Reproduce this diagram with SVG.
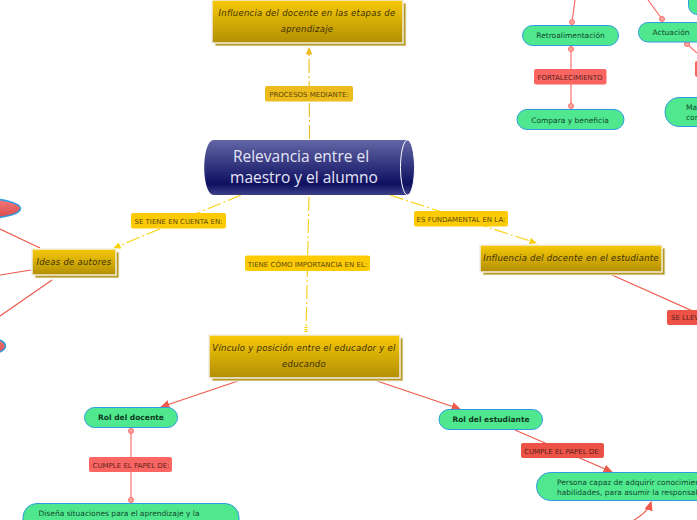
<svg xmlns="http://www.w3.org/2000/svg" width="697" height="520" viewBox="0 0 697 520">
<defs>
<linearGradient id="gold" x1="0" y1="0" x2="0" y2="1"><stop offset="0" stop-color="#f7c908"/><stop offset="1" stop-color="#b28f04"/></linearGradient>
<linearGradient id="blue" x1="0" y1="0" x2="0" y2="1"><stop offset="0" stop-color="#6366a6"/><stop offset="0.8" stop-color="#0e1060"/><stop offset="1" stop-color="#3d4088"/></linearGradient>
<linearGradient id="redg" x1="0" y1="0" x2="0" y2="1"><stop offset="0" stop-color="#f47a7a"/><stop offset="1" stop-color="#d84a4a"/></linearGradient>
<marker id="arrY" markerWidth="8" markerHeight="8" refX="6" refY="3" orient="auto"><path d="M0,0L7,3L0,6Z" fill="#fbd00e"/></marker>
<marker id="arrO" markerWidth="8" markerHeight="8" refX="6" refY="3" orient="auto"><path d="M0,0L7,3L0,6Z" fill="#ecbb1e"/></marker>
<marker id="arrR" markerWidth="9" markerHeight="8" refX="7" refY="3.5" orient="auto"><path d="M0,0L8,3.5L0,7Z" fill="#ee5a4c"/></marker>
</defs>
<style>
text{font-family:"DejaVu Sans","Liberation Sans",sans-serif}
.gold{fill:url(#gold);stroke:#f1eee6;stroke-width:1.5}
.shadow{fill:#b8991e;stroke:#f1eee6;stroke-width:1}
.gt{font-style:italic;font-size:8.5px;fill:#3c2f00;text-anchor:middle;letter-spacing:.25px}
.green{fill:#4fe88f;stroke:#2e9ce0;stroke-width:1}
.nt{font-size:7.5px;fill:#124a2c;text-anchor:middle}
.ntb{font-size:7.5px;font-weight:bold;fill:#0e3822;text-anchor:middle}
.lab{font-size:7px;fill:#5b4700;text-anchor:middle}
.labr{font-size:7px;fill:#5a1f1c;text-anchor:middle}
.yc{fill:none;stroke:#fbd00e;stroke-width:1.1;stroke-dasharray:14 3 2 3}
.oc{fill:none;stroke:#ecbb1e;stroke-width:1.1;stroke-dasharray:14 3 2 3}
.rc{fill:none;stroke:#ee5a4c;stroke-width:1.2}
.pc{fill:none;stroke:#fb6e6a;stroke-width:1.2}
.dot{fill:#fba5a0;stroke:#fb6e6a;stroke-width:1}
</style>
<g id="connectors">
<path class="oc" d="M309.500 139L309 48" marker-end="url(#arrO)"/>
<path class="yc" d="M241 195L114 248" marker-end="url(#arrY)"/>
<path class="yc" d="M390 195L536 243" marker-end="url(#arrY)"/>
<path class="yc" d="M309 197L306 332"/>
<path d="M306 327v6" stroke="#fbd00e" stroke-width="3" stroke-dasharray="1 1"/>
<path class="rc" d="M238 381L161 407" marker-end="url(#arrR)"/>
<path class="rc" d="M377 381L460 409" marker-end="url(#arrR)"/>
<path class="rc" d="M0 229L40 248M0 275L31 270M0 316L52 280"/>
<path class="rc" d="M612 275L697 313"/>
<path class="rc" d="M515 430L612 472" marker-end="url(#arrR)"/>
<path class="rc" d="M634 520Q648 512 651 502" marker-end="url(#arrR)"/>
<path class="pc" d="M131 431V503"/>
<path class="pc" d="M571 49V106"/>
<path class="pc" d="M575 0L572 22"/>
<path class="pc" d="M648 0L662 19"/>
<path class="pc" d="M687 44L697 53"/>
<circle class="dot" cx="131" cy="431" r="2.500"/><circle class="dot" cx="131" cy="500" r="2.500"/>
<circle class="dot" cx="571" cy="49" r="2.500"/><circle class="dot" cx="571" cy="106" r="2.500"/>
<circle class="dot" cx="572" cy="22" r="2.500"/><circle class="dot" cx="662" cy="19" r="2.500"/><circle class="dot" cx="687" cy="44" r="2.500"/>
</g>
<g id="central">
<path d="M214 140H407V195H214C201 195 201 140 214 140Z" fill="url(#blue)"/>
<ellipse cx="407.500" cy="167.500" rx="7" ry="27.500" fill="url(#blue)" stroke="#fff" stroke-width="1"/>
<text x="301" y="162" font-size="15.500" fill="#e4e5f4" text-anchor="middle" style="font-family:'Open Sans','Noto Sans',sans-serif">Relevancia entre el</text>
<text x="304" y="183" font-size="15.500" fill="#e4e5f4" text-anchor="middle" style="font-family:'Open Sans','Noto Sans',sans-serif">maestro y el alumno</text>
</g>
<g id="n-etapas"><rect class="shadow" x="215" y="3" width="191" height="43"/><rect class="gold" x="212" y="0" width="191" height="43"/>
<text class="gt" x="307" y="16">Influencia del docente en las etapas de</text><text class="gt" x="307" y="32">aprendizaje</text></g>
<g id="l-procesos"><rect x="265" y="86" width="88" height="15.500" rx="2" fill="#ecbb1e"/><text class="lab" x="309" y="96.500">PROCESOS MEDIANTE:</text></g>
<g id="l-cuenta"><rect x="131" y="213" width="95" height="15.500" rx="2" fill="#fdcb06"/><text class="lab" x="178.500" y="224">SE TIENE EN CUENTA EN:</text></g>
<g id="l-fundamental"><rect x="414" y="211" width="94" height="15.500" rx="2" fill="#fdcb06"/><text class="lab" x="461" y="222">ES FUNDAMENTAL EN LA:</text></g>
<g id="l-importancia"><rect x="245" y="255.500" width="125" height="15.500" rx="2" fill="#fdcb06"/><text class="lab" x="307.500" y="266.500">TIENE CÓMO IMPORTANCIA EN EL:</text></g>
<g id="n-ideas"><rect class="shadow" x="35" y="252" width="84" height="26"/><rect class="gold" x="32" y="249" width="84" height="26"/><text class="gt" x="74" y="265">Ideas de autores</text></g>
<g id="n-influencia"><rect class="shadow" x="483" y="248" width="182" height="27"/><rect class="gold" x="480" y="245" width="182" height="27"/><text class="gt" x="571" y="261">Influencia del docente en el estudiante</text></g>
<g id="n-vinculo"><rect class="shadow" x="212" y="338" width="191" height="43"/><rect class="gold" x="209" y="335" width="191" height="43"/>
<text class="gt" x="304" y="351">Vínculo y posición entre el educador y el</text><text class="gt" x="304" y="367">educando</text></g>
<g id="e1"><ellipse cx="-18" cy="208.500" rx="38.500" ry="10" fill="url(#redg)" stroke="#2e9ce0" stroke-width="1.500"/></g>
<g id="e2"><ellipse cx="-14" cy="346" rx="19.500" ry="8.500" fill="url(#redg)" stroke="#2e9ce0" stroke-width="1.500"/></g>
<g id="n-rold"><rect class="green" x="84.500" y="407.500" width="93" height="20" rx="10"/><text class="ntb" x="131" y="420">Rol del docente</text></g>
<g id="l-cumple1"><rect x="89" y="457" width="83" height="15" rx="2" fill="#fb6662"/><text class="labr" x="131" y="467.500">CUMPLE EL PAPEL DE:</text></g>
<g id="n-disena"><rect class="green" x="23" y="503.500" width="216" height="40" rx="14"/><text class="nt" x="119" y="515.500">Diseña situaciones para el aprendizaje y la</text><text class="nt" x="119" y="526">planeación del aprendizaje</text></g>
<g id="n-role"><rect class="green" x="439" y="409.500" width="103.500" height="20" rx="10"/><text class="ntb" x="491" y="422">Rol del estudiante</text></g>
<g id="l-cumple2"><rect x="521" y="443" width="83" height="15" rx="2" fill="#ec5346"/><text class="labr" x="562.500" y="453.500">CUMPLE EL PAPEL DE:</text></g>
<g id="n-persona"><rect class="green" x="536.500" y="472.500" width="230" height="28" rx="14"/><text class="nt" x="557" y="485">
<tspan text-anchor="start">Persona capaz de adquirir conocimientos y</tspan></text><text class="nt" x="557" y="494.500"><tspan text-anchor="start">habilidades, para asumir la responsabilidad</tspan></text></g>
<g id="l-llev"><rect x="667" y="310" width="50" height="15" rx="2" fill="#ec5346"/><text class="labr" x="671" y="320" style="text-anchor:start">SE LLEVA A</text></g>
<g id="n-retro"><rect class="green" x="522.500" y="25.500" width="96" height="20" rx="10"/><text class="nt" x="570.500" y="38">Retroalimentación</text></g>
<g id="l-fort"><rect x="534" y="69" width="72.500" height="15.500" rx="2" fill="#fb6662"/><text class="labr" x="570" y="79.500">FORTALECIMIENTO</text></g>
<g id="n-compara"><rect class="green" x="517" y="109.500" width="107" height="20" rx="10"/><text class="nt" x="570" y="122.500">Compara y beneficia</text></g>
<g id="n-actuacion"><rect class="green" x="638.500" y="22.500" width="90" height="19.500" rx="9.500"/><text class="nt" x="671" y="35">Actuación</text></g>
<g id="n-top"><rect class="green" x="688.500" y="-10" width="60" height="24.500" rx="9"/></g>
<g id="l-r"><rect x="695" y="61" width="30" height="16" rx="2" fill="#fb6662"/></g>
<g id="n-ma"><rect class="green" x="665" y="97.500" width="80" height="29" rx="14"/><text class="nt" x="686" y="110" style="text-anchor:start">Manejo</text><text class="nt" x="686" y="120" style="text-anchor:start">con</text></g>
</svg>
